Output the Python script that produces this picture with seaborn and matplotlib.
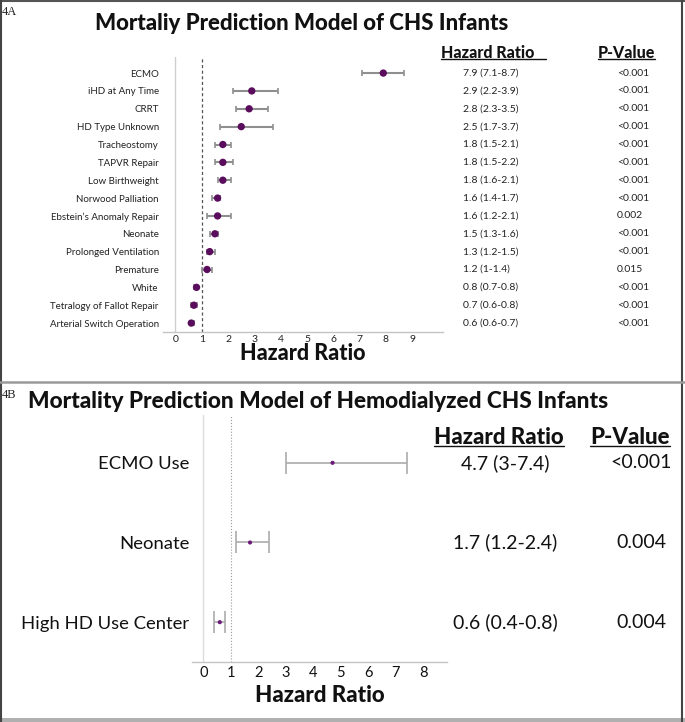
import numpy as np
import pandas as pd
import matplotlib
matplotlib.use("Agg")
import matplotlib.pyplot as plt
import seaborn as sns
from matplotlib.lines import Line2D
from matplotlib.patches import Rectangle
from matplotlib.transforms import blended_transform_factory

# ---------------- data ----------------
labels_a = ["ECMO", "iHD at Any Time", "CRRT", "HD Type Unknown", "Tracheostomy",
            "TAPVR Repair", "Low Birthweight", "Norwood Palliation",
            "Ebstein\u2019s Anomaly Repair", "Neonate", "Prolonged Ventilation",
            "Premature", "White", "Tetralogy of Fallot Repair", "Arterial Switch Operation"]
hr_a = [7.9, 2.9, 2.8, 2.5, 1.8, 1.8, 1.8, 1.6, 1.6, 1.5, 1.3, 1.2, 0.8, 0.7, 0.6]
lo_a = [7.1, 2.2, 2.3, 1.7, 1.5, 1.5, 1.6, 1.4, 1.2, 1.3, 1.2, 1.0, 0.7, 0.6, 0.6]
hi_a = [8.7, 3.9, 3.5, 3.7, 2.1, 2.2, 2.1, 1.7, 2.1, 1.6, 1.5, 1.4, 0.8, 0.8, 0.7]
hrtxt_a = ["7.9 (7.1-8.7)", "2.9 (2.2-3.9)", "2.8 (2.3-3.5)", "2.5 (1.7-3.7)",
           "1.8 (1.5-2.1)", "1.8 (1.5-2.2)", "1.8 (1.6-2.1)", "1.6 (1.4-1.7)",
           "1.6 (1.2-2.1)", "1.5 (1.3-1.6)", "1.3 (1.2-1.5)", "1.2 (1-1.4)",
           "0.8 (0.7-0.8)", "0.7 (0.6-0.8)", "0.6 (0.6-0.7)"]
p_a = ["<0.001", "<0.001", "<0.001", "<0.001", "<0.001", "<0.001", "<0.001",
       "<0.001", "0.002", "<0.001", "<0.001", "0.015", "<0.001", "<0.001", "<0.001"]
ticks_a = [0, 1, 2, 3, 4, 5, 6, 7, 8, 9]

labels_b = ["ECMO Use", "Neonate", "High HD Use Center"]
hr_b = [4.7, 1.7, 0.6]
lo_b = [3.0, 1.2, 0.4]
hi_b = [7.4, 2.4, 0.8]
hrtxt_b = ["4.7 (3-7.4)", "1.7 (1.2-2.4)", "0.6 (0.4-0.8)"]
p_b = ["<0.001", "0.004", "0.004"]
ticks_b = [0, 1, 2, 3, 4, 5, 6, 7, 8]

title_a = "Mortaliy Prediction Model of CHS Infants"
title_b = "Mortality Prediction Model of Hemodialyzed CHS Infants"

# ---------------- style ----------------
sns.set_theme(style="white")
plt.rcParams["font.family"] = ["Lato", "DejaVu Sans"]

W, H = 685, 722
fig = plt.figure(figsize=(W / 100, H / 100), dpi=100)
fig.patch.set_facecolor("white")
HEAVY = "black"


def rect(l, t, r, b):
    return [l / W, 1 - b / H, (r - l) / W, (b - t) / H]


def ftext(x, y, s, **kw):
    return fig.text(x / W, 1 - y / H, s, **kw)


dfA = pd.DataFrame({"label": labels_a, "hr": hr_a, "lo": lo_a, "hi": hi_a})
dfB = pd.DataFrame({"label": labels_b, "hr": hr_b, "lo": lo_b, "hi": hi_b})

PURPLE_A = "#5a0d5c"
PURPLE_B = "#6c1a7c"


def forest(ax, df, color, s, ecol, elw, cap, clw, zero_col, ref_ls, ref_col, ref_lw):
    ax.axvline(0, color=zero_col, lw=1.0, zorder=1)
    ax.axvline(1, color=ref_col, lw=ref_lw, ls=ref_ls, zorder=1)
    ax.errorbar(df["hr"], df["label"],
                xerr=[df["hr"] - df["lo"], df["hi"] - df["hr"]],
                fmt="none", ecolor=ecol, elinewidth=elw, capsize=cap,
                capthick=clw, zorder=2)
    sns.scatterplot(data=df, x="hr", y="label", ax=ax, color=color, s=s,
                    edgecolor="none", linewidth=0, zorder=3, legend=False)
    for side in ["top", "right", "left"]:
        ax.spines[side].set_visible(False)
    ax.spines["bottom"].set_color("#c4c4c4")
    ax.spines["bottom"].set_linewidth(1.0)
    ax.set_facecolor("none")
    ax.set_ylabel("")
    ax.tick_params(axis="both", length=0)


# ---------------- panel A ----------------
axA = fig.add_axes(rect(163, 57, 443, 332))
forest(axA, dfA, PURPLE_A, 28, "#8f8f8f", 1.5, 2.5, 1.2,
       "#cfcfcf", (0, (2.5, 2.0)), "#555555", 0.9)
axA.set_xlim(-0.475, 10.17)
axA.set_ylim(14.5, -0.9)
axA.set_xticks(ticks_a)
axA.set_xticklabels([str(t) for t in ticks_a], fontsize=7.5, color="#222222")
axA.set_yticks(range(len(labels_a)))
axA.set_yticklabels(labels_a, fontsize=7, color="#222222")
axA.tick_params(axis="x", pad=2)
axA.tick_params(axis="y", pad=3)
axA.set_xlabel("Hazard Ratio", fontsize=15.5, fontweight=HEAVY, color="#111111")
axA.xaxis.set_label_coords(0.5, -0.077)
axA.xaxis.label.set_va("center")

trA = blended_transform_factory(fig.transFigure, axA.transData)
for i, (t, p) in enumerate(zip(hrtxt_a, p_a)):
    fig.text(463 / W, i, t, transform=trA, fontsize=7.5, va="center", ha="left", color="#222222")
    fig.text(617 / W, i, p, transform=trA, fontsize=7.5, va="center", ha="left", color="#222222")

ftext(2, 12, "4A", fontsize=9, family=["Liberation Serif"], va="center", ha="left", color="#222222")
ftext(302, 24, title_a, fontsize=16, fontweight=HEAVY, va="center", ha="center", color="#111111")
hA1 = ftext(441, 53, "Hazard Ratio", fontsize=11.5, fontweight=HEAVY, va="center", ha="left", color="#111111")
hA2 = ftext(598, 53, "P-Value", fontsize=11.5, fontweight=HEAVY, va="center", ha="left", color="#111111")

# ---------------- panel B ----------------
axB = fig.add_axes(rect(192, 415, 447, 662))
forest(axB, dfB, PURPLE_B, 9, "#ababab", 1.2, 8, 1.2,
       "#dcdcdc", ":", "#9a9a9a", 0.8)
axB.set_xlim(-0.41, 8.86)
axB.set_ylim(2.5, -0.6)
axB.set_xticks(ticks_b)
axB.set_xticklabels([str(t) for t in ticks_b], fontsize=10.5, color="#111111")
axB.set_yticks(range(len(labels_b)))
axB.set_yticklabels(labels_b, fontsize=13.3, color="#111111")
axB.tick_params(axis="x", pad=3)
axB.tick_params(axis="y", pad=2)
axB.set_xlabel("Hazard Ratio", fontsize=16, fontweight=HEAVY, color="#111111")
axB.xaxis.set_label_coords(0.502, -0.134)
axB.xaxis.label.set_va("center")

trB = blended_transform_factory(fig.transFigure, axB.transData)
for i, (t, p) in enumerate(zip(hrtxt_b, p_b)):
    fig.text(505 / W, i, t, transform=trB, fontsize=14, va="center", ha="center", color="#111111")
    fig.text(641 / W, i, p, transform=trB, fontsize=14, va="center", ha="center", color="#111111")

ftext(2, 395, "4B", fontsize=9, family=["Liberation Serif"], va="center", ha="left", color="#222222")
ftext(28, 402, title_b, fontsize=16.3, fontweight=HEAVY, va="center", ha="left", color="#111111")
hB1 = ftext(499, 437, "Hazard Ratio", fontsize=16, fontweight=HEAVY, va="center", ha="center", color="#111111")
hB2 = ftext(630, 437, "P-Value", fontsize=16, fontweight=HEAVY, va="center", ha="center", color="#111111")

# ---------------- frame ----------------
fig.add_artist(Line2D([0, 1], [1 - 1 / H, 1 - 1 / H], transform=fig.transFigure, color="#555555", lw=1.5))
fig.add_artist(Line2D([1 / W, 1 / W], [0, 1], transform=fig.transFigure, color="#444444", lw=1.5))
fig.add_artist(Line2D([1 - 3 / W, 1 - 3 / W], [0, 1], transform=fig.transFigure, color="#444444", lw=1.5))
fig.add_artist(Line2D([0, 1], [1 - 382 / H, 1 - 382 / H], transform=fig.transFigure, color="#9a9a9a", lw=1.8))
fig.add_artist(Rectangle((0, 0), 1, 4 / H, transform=fig.transFigure, color="#b0b0b0", lw=0))

# ---------------- underlines ----------------
fig.canvas.draw()
rend = fig.canvas.get_renderer()
inv = fig.transFigure.inverted()
for t, extra, gap in [(hA1, 12, 2), (hA2, 0, 2), (hB1, 0, 2), (hB2, 0, 2)]:
    bb = t.get_window_extent(rend).transformed(inv)
    y = bb.y0 + gap / H
    fig.add_artist(Line2D([bb.x0, bb.x1 + extra / W], [y, y], transform=fig.transFigure,
                          color="#111111", lw=1.0))

fig.savefig("out.png", dpi=100)
